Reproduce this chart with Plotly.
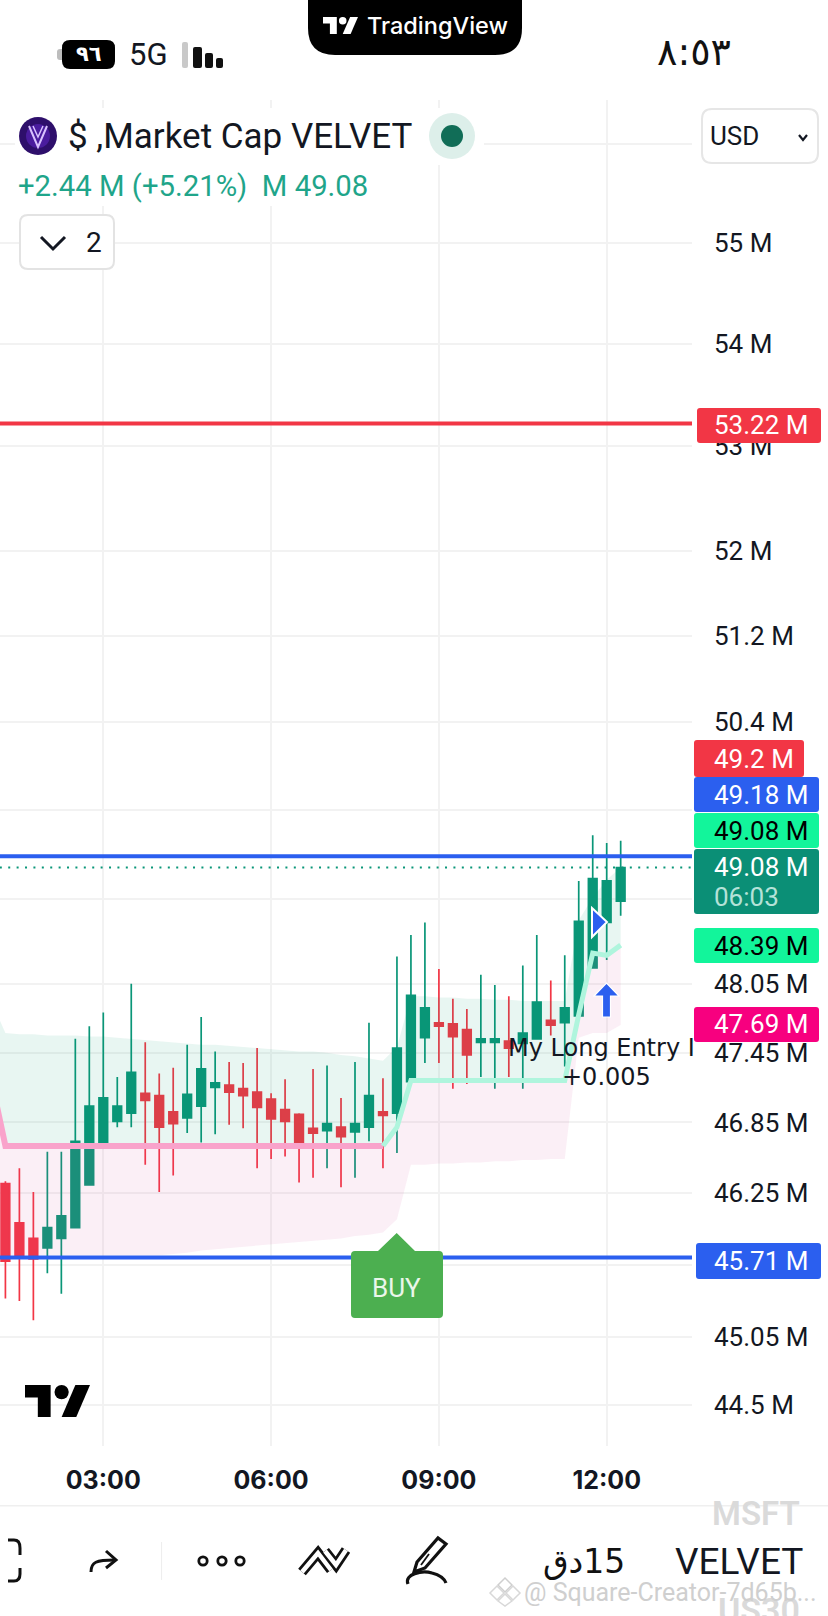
import re
import plotly.graph_objects as go

# ---------- data (values in millions) ----------
bar_times = ["01:15","01:30","01:45","02:00","02:15","02:30","02:45","03:00","03:15","03:30",
             "03:45","04:00","04:15","04:30","04:45","05:00","05:15","05:30","05:45","06:00",
             "06:15","06:30","06:45","07:00","07:15","07:30","07:45","08:00","08:15","08:30",
             "08:45","09:00","09:15","09:30","09:45","10:00","10:15","10:30","10:45","11:00",
             "11:15","11:30","11:45","12:00","12:15"]
opens  = [46.33,46.00,45.87,45.79,45.87,45.96,46.32,46.65,46.86,46.93,
          47.10,47.08,46.94,46.89,46.99,47.15,47.17,47.14,47.11,47.05,
          46.96,46.92,46.80,46.78,46.81,46.77,46.81,46.94,46.93,47.20,
          47.58,47.71,47.70,47.65,47.54,47.54,47.55,47.53,47.57,47.73,
          47.71,47.77,48.19,48.59,48.78]
highs  = [46.35,46.46,46.26,46.60,46.60,47.57,47.68,47.80,47.24,48.05,
          47.54,47.27,47.32,47.52,47.76,47.46,47.37,47.36,47.49,47.10,
          47.22,46.93,47.31,47.34,47.06,47.37,47.71,47.23,48.29,48.48,
          48.59,48.18,47.92,47.83,48.13,48.04,47.94,48.21,48.48,48.08,
          48.30,48.96,49.37,49.30,49.32]
lows   = [45.37,45.35,45.19,45.58,45.41,45.96,46.32,46.65,46.81,46.81,
          46.49,46.26,46.40,46.76,46.68,46.75,46.83,46.80,46.46,46.54,
          46.56,46.34,46.38,46.46,46.30,46.38,46.69,46.46,46.59,47.20,
          47.36,47.36,47.14,47.18,47.24,47.14,47.24,47.14,47.57,47.60,
          47.33,47.77,48.19,48.26,48.65]
closes = [45.68,45.71,45.70,45.96,46.06,46.69,46.99,47.06,46.99,47.28,
          47.04,46.81,46.84,47.09,47.31,47.19,47.11,47.08,46.98,46.88,
          46.86,46.67,46.76,46.84,46.73,46.84,47.08,46.91,47.49,47.95,
          47.84,47.68,47.59,47.43,47.57,47.57,47.49,47.62,47.89,47.69,
          47.84,48.60,48.98,48.96,49.08]

band_times = ["01:00"] + bar_times
band_upper = [47.90,47.62,47.61,47.61,47.60,47.60,47.60,47.59,47.59,47.58,
              47.57,47.56,47.55,47.54,47.53,47.52,47.52,47.51,47.50,47.49,
              47.48,47.47,47.46,47.46,47.45,47.43,47.42,47.40,47.38,47.50,
              47.94,47.94,47.93,47.93,47.92,47.92,47.91,47.91,47.90,47.90,
              47.90,47.90,48.61,48.81,48.97,49.08]
band_trend = [47.21,46.65,46.65,46.65,46.65,46.65,46.65,46.65,46.65,46.65,
              46.65,46.65,46.65,46.65,46.65,46.65,46.65,46.65,46.65,46.65,
              46.65,46.65,46.65,46.65,46.65,46.65,46.65,46.65,46.65,46.81,
              47.21,47.21,47.21,47.21,47.21,47.21,47.21,47.21,47.21,47.21,
              47.21,47.21,47.78,48.32,48.30,48.39]
band_lower = [45.73,45.73,45.73,45.73,45.73,45.73,45.73,45.73,45.73,45.73,
              45.73,45.73,45.73,45.74,45.75,45.77,45.78,45.79,45.80,45.81,
              45.82,45.83,45.84,45.85,45.86,45.87,45.89,45.90,45.92,46.03,
              46.49,46.49,46.50,46.50,46.51,46.51,46.52,46.52,46.53,46.53,
              46.54,46.54,47.58,47.62,47.62,47.69]

y_ticks  = [56,55,54,53,52,51.2,50.4,49.6,48.8,48.05,47.45,46.85,46.25,45.65,45.05,44.5]
y_labels = ["","55 M","54 M","53 M","52 M","51.2 M","50.4 M","","","48.05 M","47.45 M",
            "46.85 M","46.25 M","","45.05 M","44.5 M"]
x_ticks  = ["03:00","06:00","09:00","12:00"]
line_red, line_blue_top, line_blue_low, last_price = 53.22, 49.18, 45.71, 49.08

DAY = "2024-01-02 "
def stamp(ts): return [DAY + t for t in ts]

# ---------- page geometry ----------
L, R, T, B = 0, 692, 100, 1446
W_PX, H_PX = 828, 1616
GREEN, RED, BLUE = "#0A9678", "#F23645", "#2B5FEF"
MINT, MAGENTA = "#12F59B", "#F7007F"
FONT = "Roboto"

def xp(x): return (x - L) / (R - L)
def yp(y): return (B - y) / (B - T)

def px_path(d):
    out, is_x = [], True
    for tok in d.split():
        if re.fullmatch(r"[A-Za-z]", tok):
            out.append(tok); is_x = True
        else:
            v = float(tok)
            out.append(f"{xp(v):.5f}" if is_x else f"{yp(v):.5f}")
            is_x = not is_x
    return " ".join(out)

shapes, notes = [], []

def path(d, fill=None, line=None, lw=0):
    s = dict(type="path", xref="paper", yref="paper", layer="above", path=px_path(d),
             line=dict(color=line or "rgba(0,0,0,0)", width=lw))
    if fill: s["fillcolor"] = fill
    shapes.append(s)

def rrect(x0, y0, x1, y1, r, fill=None, line=None, lw=0):
    path(f"M {x0+r} {y0} L {x1-r} {y0} Q {x1} {y0} {x1} {y0+r} L {x1} {y1-r} Q {x1} {y1} {x1-r} {y1} "
         f"L {x0+r} {y1} Q {x0} {y1} {x0} {y1-r} L {x0} {y0+r} Q {x0} {y0} {x0+r} {y0} Z", fill, line, lw)

def circle(cx, cy, r, fill=None, line=None, lw=0):
    s = dict(type="circle", xref="paper", yref="paper", layer="above",
             x0=xp(cx-r), x1=xp(cx+r), y0=yp(cy+r), y1=yp(cy-r),
             line=dict(color=line or "rgba(0,0,0,0)", width=lw))
    if fill: s["fillcolor"] = fill
    shapes.append(s)

def text(x, y, s, size, color="#131722", anchor="left", family=FONT, weight=400):
    notes.append(dict(xref="paper", yref="paper", x=xp(x), y=yp(y), text=s, showarrow=False,
                      xanchor=anchor, yanchor="middle", borderpad=0,
                      font=dict(size=size, color=color, family=family, weight=weight)))

def tv_logo(x0, y0, w, h, color):
    sx, sy = w / 35.5, h / 18
    X = lambda v: x0 + v * sx
    Y = lambda v: y0 + (v - 4) * sy
    path(f"M {X(14)} {Y(22)} L {X(7)} {Y(22)} L {X(7)} {Y(11)} L {X(0)} {Y(11)} L {X(0)} {Y(4)} L {X(14)} {Y(4)} Z", color)
    path(f"M {X(28)} {Y(22)} L {X(20)} {Y(22)} L {X(27.5)} {Y(4)} L {X(35.5)} {Y(4)} Z", color)
    circle(X(20), Y(8), 4 * sy, color)

# ---------- header backing, status bar ----------
rrect(15, 108, 484, 165, 0, "#FFFFFF")
rrect(14, 165, 375, 206, 0, "#FFFFFF")
path("M 308 0 L 522 0 L 522 28 Q 522 55 495 55 L 335 55 Q 308 55 308 28 Z", "#000000")
tv_logo(323, 17, 35, 17, "#FFFFFF")
text(366, 26, "TradingView", 23.5, "#FFFFFF", family="Inter", weight=500)
rrect(57, 49, 66, 60, 3, "#BDBDBD")
rrect(62, 40, 115, 69, 8, "#000000")
text(88.5, 54, "٩٦", 21, "#FFFFFF", "center", "DejaVu Sans", 700)
text(128, 55, "5G", 31, "#131722", weight=400)
rrect(182, 42, 188, 68, 2, "#C9C9C9")
rrect(193, 47, 202, 68, 2, "#111111")
rrect(205, 53, 213, 68, 2, "#111111")
rrect(216, 58, 223, 68, 2, "#111111")
text(694, 52, "٨:٥٣", 38, "#111111", "center", "DejaVu Sans", 500)

# ---------- legend block ----------
circle(38, 136, 19, "#2E0F6B")
circle(38, 136, 12, "#4A1C9E")
path("M 29 126 L 38 147 L 47 126", None, "#D9C2FF", 2)
path("M 33 126 L 38 137 L 43 126", None, "#D9C2FF", 1.5)
text(67, 136, "$ ,Market Cap VELVET", 35)
circle(452, 136, 23, "#DDEFEA")
circle(452, 136, 11, "#116D57")
text(17, 186, "+2.44 M (+5.21%)  M 49.08", 29.3, "#1FA58A")
rrect(20, 215, 114, 269, 8, "#FFFFFF", "#E3E3E3", 2)
path("M 41 237 L 53 249 L 65 237", None, "#131722", 3)
text(94, 243, "2", 28, anchor="center")
rrect(702, 109, 818, 163, 10, "#FFFFFF", "#E6E6E6", 2)
text(709, 136, "USD", 26)
path("M 799 135 L 803 140 L 807 135", None, "#131722", 2.2)

# ---------- price tags ----------
rrect(697, 408, 821, 443, 3, RED)
text(713, 425, "53.22 M", 26, "#FFFFFF")
rrect(694, 740, 804, 777, 3, RED)
text(713, 759, "49.2 M", 26, "#FFFFFF")
rrect(694, 777, 819, 812, 3, BLUE)
text(713, 795, "49.18 M", 26, "#FFFFFF")
rrect(694, 813, 819, 848, 3, MINT)
text(713, 831, "49.08 M", 26, "#000000")
rrect(694, 849, 819, 914, 3, "#0B8F76")
text(713, 867, "49.08 M", 26, "#FFFFFF")
text(713, 897, "06:03", 26, "#B4E2D8")
rrect(694, 928, 819, 963, 3, MINT)
text(713, 946, "48.39 M", 26, "#000000")
rrect(694, 1007, 819, 1042, 3, MAGENTA)
text(713, 1024, "47.69 M", 26, "#FFFFFF")
rrect(696, 1243, 821, 1279, 3, BLUE)
text(713, 1261, "45.71 M", 26, "#FFFFFF")

# ---------- chart markers ----------
path("M 592 908 L 607 922 L 592 937 Z", BLUE, "#FFFFFF", 2)
path("M 606.5 983 L 619 996 L 610.5 996 L 610.5 1017 L 602.5 1017 L 602.5 996 L 594 996 Z", BLUE, "#FFFFFF", 1.2)
path("M 396.7 1233 L 415 1251 L 439 1251 Q 443 1251 443 1255 L 443 1314 Q 443 1318 439 1318 "
     "L 355 1318 Q 351 1318 351 1314 L 351 1255 Q 351 1251 355 1251 L 378 1251 Z", "#4CAF50")
text(396.7, 1288, "BUY", 26, "#EAF6EA", "center")
text(507, 1048, "My Long Entry I", 24, "#131722", family="DejaVu Sans")
text(606, 1077, "+0.005", 24, "#131722", "center", family="DejaVu Sans")
tv_logo(25, 1385, 65, 32, "#000000")

# ---------- bottom toolbar ----------
path("M 0 1505.7 L 828 1505.7", None, "#EFEFEF", 1.5)
path("M 8 1540 L 14 1540 Q 20 1540 20 1548 L 20 1555", None, "#111111", 3)
path("M 20 1568 L 20 1574 Q 20 1581 14 1581 L 8 1581", None, "#111111", 3)
path("M 91 1572 C 91 1562 96 1560 115 1560", None, "#111111", 3)
path("M 106 1551 L 116 1560 L 106 1568", None, "#111111", 3)
path("M 161.6 1542 L 161.6 1580", None, "#EDEDED", 1)
for cx in (203, 222, 240):
    circle(cx, 1561, 4.2, None, "#111111", 2.8)
trend_d = "M 302 1572 L 318 1553 L 331 1570 M 325 1551 L 336 1565 L 346 1550"
path(trend_d, None, "#111111", 10)
path(trend_d, None, "#FFFFFF", 4.5)
path("M 417 1562 L 438 1538 L 446 1544 L 425 1568 L 414 1572 Z", None, "#111111", 3.2)
path("M 421 1565 L 429 1554", None, "#111111", 1.8)
path("M 408 1584 C 404 1574 422 1570 432 1573 C 440 1575 444 1578 446 1583", None, "#111111", 3.2)
text(626, 1561, "\u200f15دق", 33, "#111111", "right", "DejaVu Sans", 500)
text(804, 1561, "VELVET", 37, "#131722", "right", weight=400)
text(801, 1513, "MSFT", 33, "#DADADA", "right", weight=600)
text(801, 1610, "US30", 34, "#DADADA", "right", weight=600)
path("M 505 1578 L 512 1585 L 505 1592 L 498 1585 Z", None, "#CFCFCF", 1.5)
path("M 497 1586 L 504 1593 L 497 1600 L 490 1593 Z", None, "#D8D8D8", 1.5)
path("M 513 1586 L 520 1593 L 513 1600 L 506 1593 Z", None, "#D8D8D8", 1.5)
path("M 505 1594 L 512 1601 L 505 1606 L 498 1601 Z", None, "#D8D8D8", 1.5)
text(523, 1592, "@ Square-Creator-7d65b...", 25, "#CFCFCF")

# ---------- figure ----------
fig = go.Figure()
band_x = stamp(band_times)
fig.add_trace(go.Scatter(x=band_x, y=band_lower, mode="lines", line=dict(width=0), hoverinfo="skip", showlegend=False))
fig.add_trace(go.Scatter(x=band_x, y=band_trend, mode="lines", line=dict(width=0), fill="tonexty",
                         fillcolor="rgba(214,70,150,0.085)", hoverinfo="skip", showlegend=False))
fig.add_trace(go.Scatter(x=band_x, y=band_upper, mode="lines", line=dict(width=0), fill="tonexty",
                         fillcolor="rgba(0,160,115,0.09)", hoverinfo="skip", showlegend=False))
fig.add_trace(go.Scatter(x=band_x[:29], y=band_trend[:29], mode="lines",
                         line=dict(color="#F9A3CB", width=6), hoverinfo="skip", showlegend=False))
fig.add_trace(go.Scatter(x=band_x[28:], y=band_trend[28:], mode="lines",
                         line=dict(color="#AFF5DD", width=5), hoverinfo="skip", showlegend=False))
fig.add_trace(go.Scatter(x=[band_x[0], DAY + "14:00"], y=[line_red, line_red], mode="lines",
                         line=dict(color=RED, width=4), hoverinfo="skip", showlegend=False))
for lvl in (line_blue_top, line_blue_low):
    fig.add_trace(go.Scatter(x=[band_x[0], DAY + "14:00"], y=[lvl, lvl], mode="lines",
                             line=dict(color=BLUE, width=4), hoverinfo="skip", showlegend=False))
fig.add_trace(go.Scatter(x=[band_x[0], DAY + "14:00"], y=[last_price, last_price], mode="lines",
                         line=dict(color=GREEN, width=2, dash="2px,6.4px"), hoverinfo="skip", showlegend=False))
fig.add_trace(go.Candlestick(x=stamp(bar_times), open=opens, high=highs, low=lows, close=closes,
                             increasing=dict(line=dict(color=GREEN, width=1.7), fillcolor=GREEN),
                             decreasing=dict(line=dict(color=RED, width=1.7), fillcolor=RED),
                             whiskerwidth=0, hoverinfo="skip", showlegend=False))

fig.update_layout(
    width=W_PX, height=H_PX, autosize=False,
    margin=dict(l=L, r=W_PX - R, t=T, b=H_PX - B, pad=0),
    paper_bgcolor="#FFFFFF", plot_bgcolor="#FFFFFF",
    font=dict(family=FONT, color="#131722"),
    showlegend=False, shapes=shapes, annotations=notes, boxgap=0.12,
    xaxis=dict(type="date", range=[DAY + "01:09:12", DAY + "13:31:30"], rangeslider=dict(visible=False),
               tickmode="array", tickvals=stamp(x_ticks), ticktext=x_ticks,
               showgrid=True, gridcolor="#F2F2F2", gridwidth=1.5, zeroline=False, showline=False,
               ticks="", ticklabelstandoff=17,
               tickfont=dict(family="Inter", size=25, color="#131722", weight=700)),
    yaxis=dict(type="log", side="right", range=[1.645089, 1.751688],
               tickmode="array", tickvals=y_ticks, ticktext=y_labels,
               showgrid=True, gridcolor="#F2F2F2", gridwidth=1.5, zeroline=False, showline=False,
               ticks="", ticklabelstandoff=21, automargin=False,
               tickfont=dict(family=FONT, size=26, color="#131722")),
)
fig.write_html("out.html", config=dict(displayModeBar=False),
               post_script="document.body.style.margin='0';document.documentElement.style.overflow='hidden';")
